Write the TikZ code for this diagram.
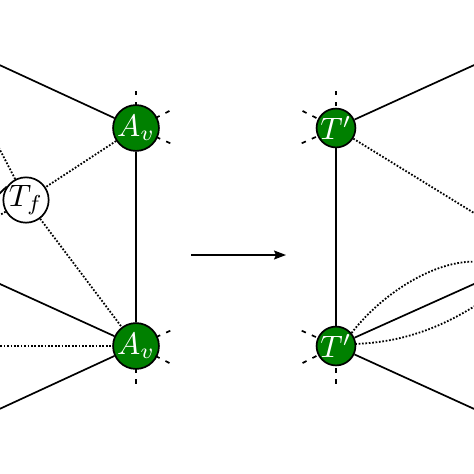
\documentclass[tikz,border=0pt]{standalone}
\usepackage{graphicx}
\usetikzlibrary{arrows.meta}
\newcommand{\biglbl}[1]{\scalebox{3.1}{$#1$}}
\begin{document}
\begin{tikzpicture}[x=1pt,y=-1pt,
  vert/.style={circle,draw=black,line width=1.7pt,minimum size=37pt,inner sep=0pt},
  gvert/.style={vert,fill=green!50!black,text=white},
  wvert/.style={vert,fill=white,text=black},
  solidedge/.style={line width=1.7pt},
  dotedge/.style={line width=1.8pt,dash pattern=on 1.7pt off 1.7pt},
  stubedge/.style={line width=1.7pt,dash pattern=on 4.5pt off 6.5pt}]
\useasboundingbox (0,0) rectangle (474,474);
\clip (0,0) rectangle (474,474);
% nodes
\node[wvert] (Tf) at (26,200) {\biglbl{T_f}};
\node[gvert] (Av1) at (136,128) {\biglbl{A_v}};
\node[gvert] (Av2) at (136,346) {\biglbl{A_v}};
\node[gvert] (T1) at (336,128) {\biglbl{T'}};
\node[gvert] (T2) at (336,346) {\biglbl{T'}};
% off-picture ends
\coordinate (L1) at (-20,56);
\coordinate (L2) at (-15,121);
\coordinate (L3) at (-20,226.5);
\coordinate (L4) at (-6,199);
\coordinate (L5) at (-20,274.9);
\coordinate (L6) at (-20,346);
\coordinate (L7) at (-20,418);
\coordinate (R1) at (494,56);
\coordinate (R2) at (494,225.3);
\coordinate (R3) at (494,275);
\coordinate (R4) at (494,418);
\coordinate (A1) at (191,255);
\coordinate (A2) at (286,255);
% left side
\draw[solidedge] (L1) -- (Av1);
\draw[dotedge] (Av1) -- (Tf);
\draw[solidedge] (Av1) -- (Av2);
\draw[dotedge] (Tf) -- (Av2);
\draw[dotedge] (Tf) -- (L2);
\draw[dotedge] (Tf) -- (L3);
\draw[solidedge] (L4) .. controls (0,193) .. (Tf.145);
\draw[solidedge] (L5) -- (Av2);
\draw[dotedge] (L6) -- (Av2);
\draw[solidedge] (L7) -- (Av2);
% right side
\draw[solidedge] (T1) -- (R1);
\draw[dotedge] (T1) -- (R2);
\draw[solidedge] (T1) -- (T2);
\draw[solidedge] (T2) -- (R3);
\draw[solidedge] (T2) -- (R4);
\draw[dotedge] (T2.40) .. controls (385,290) and (440,258) .. (480,262)
  .. controls (510,264) and (500,292) .. (478,304)
  .. controls (450,322) and (410,342) .. (T2.6);
% stubs
\foreach \n/\a in {Av1/90,Av1/27,Av1/-24,Av2/-90,Av2/24,Av2/-27,
                   T1/90,T1/153,T1/204,T2/-90,T2/156,T2/207}{
  \draw[stubedge] ([shift={(\a:22pt)}]\n.center) -- ([shift={(\a:38pt)}]\n.center);
}
% arrow
\draw[line width=1.5pt,-{Stealth[length=12pt,width=9pt,inset=2pt]}] (A1) -- (A2);
\end{tikzpicture}
\end{document}
